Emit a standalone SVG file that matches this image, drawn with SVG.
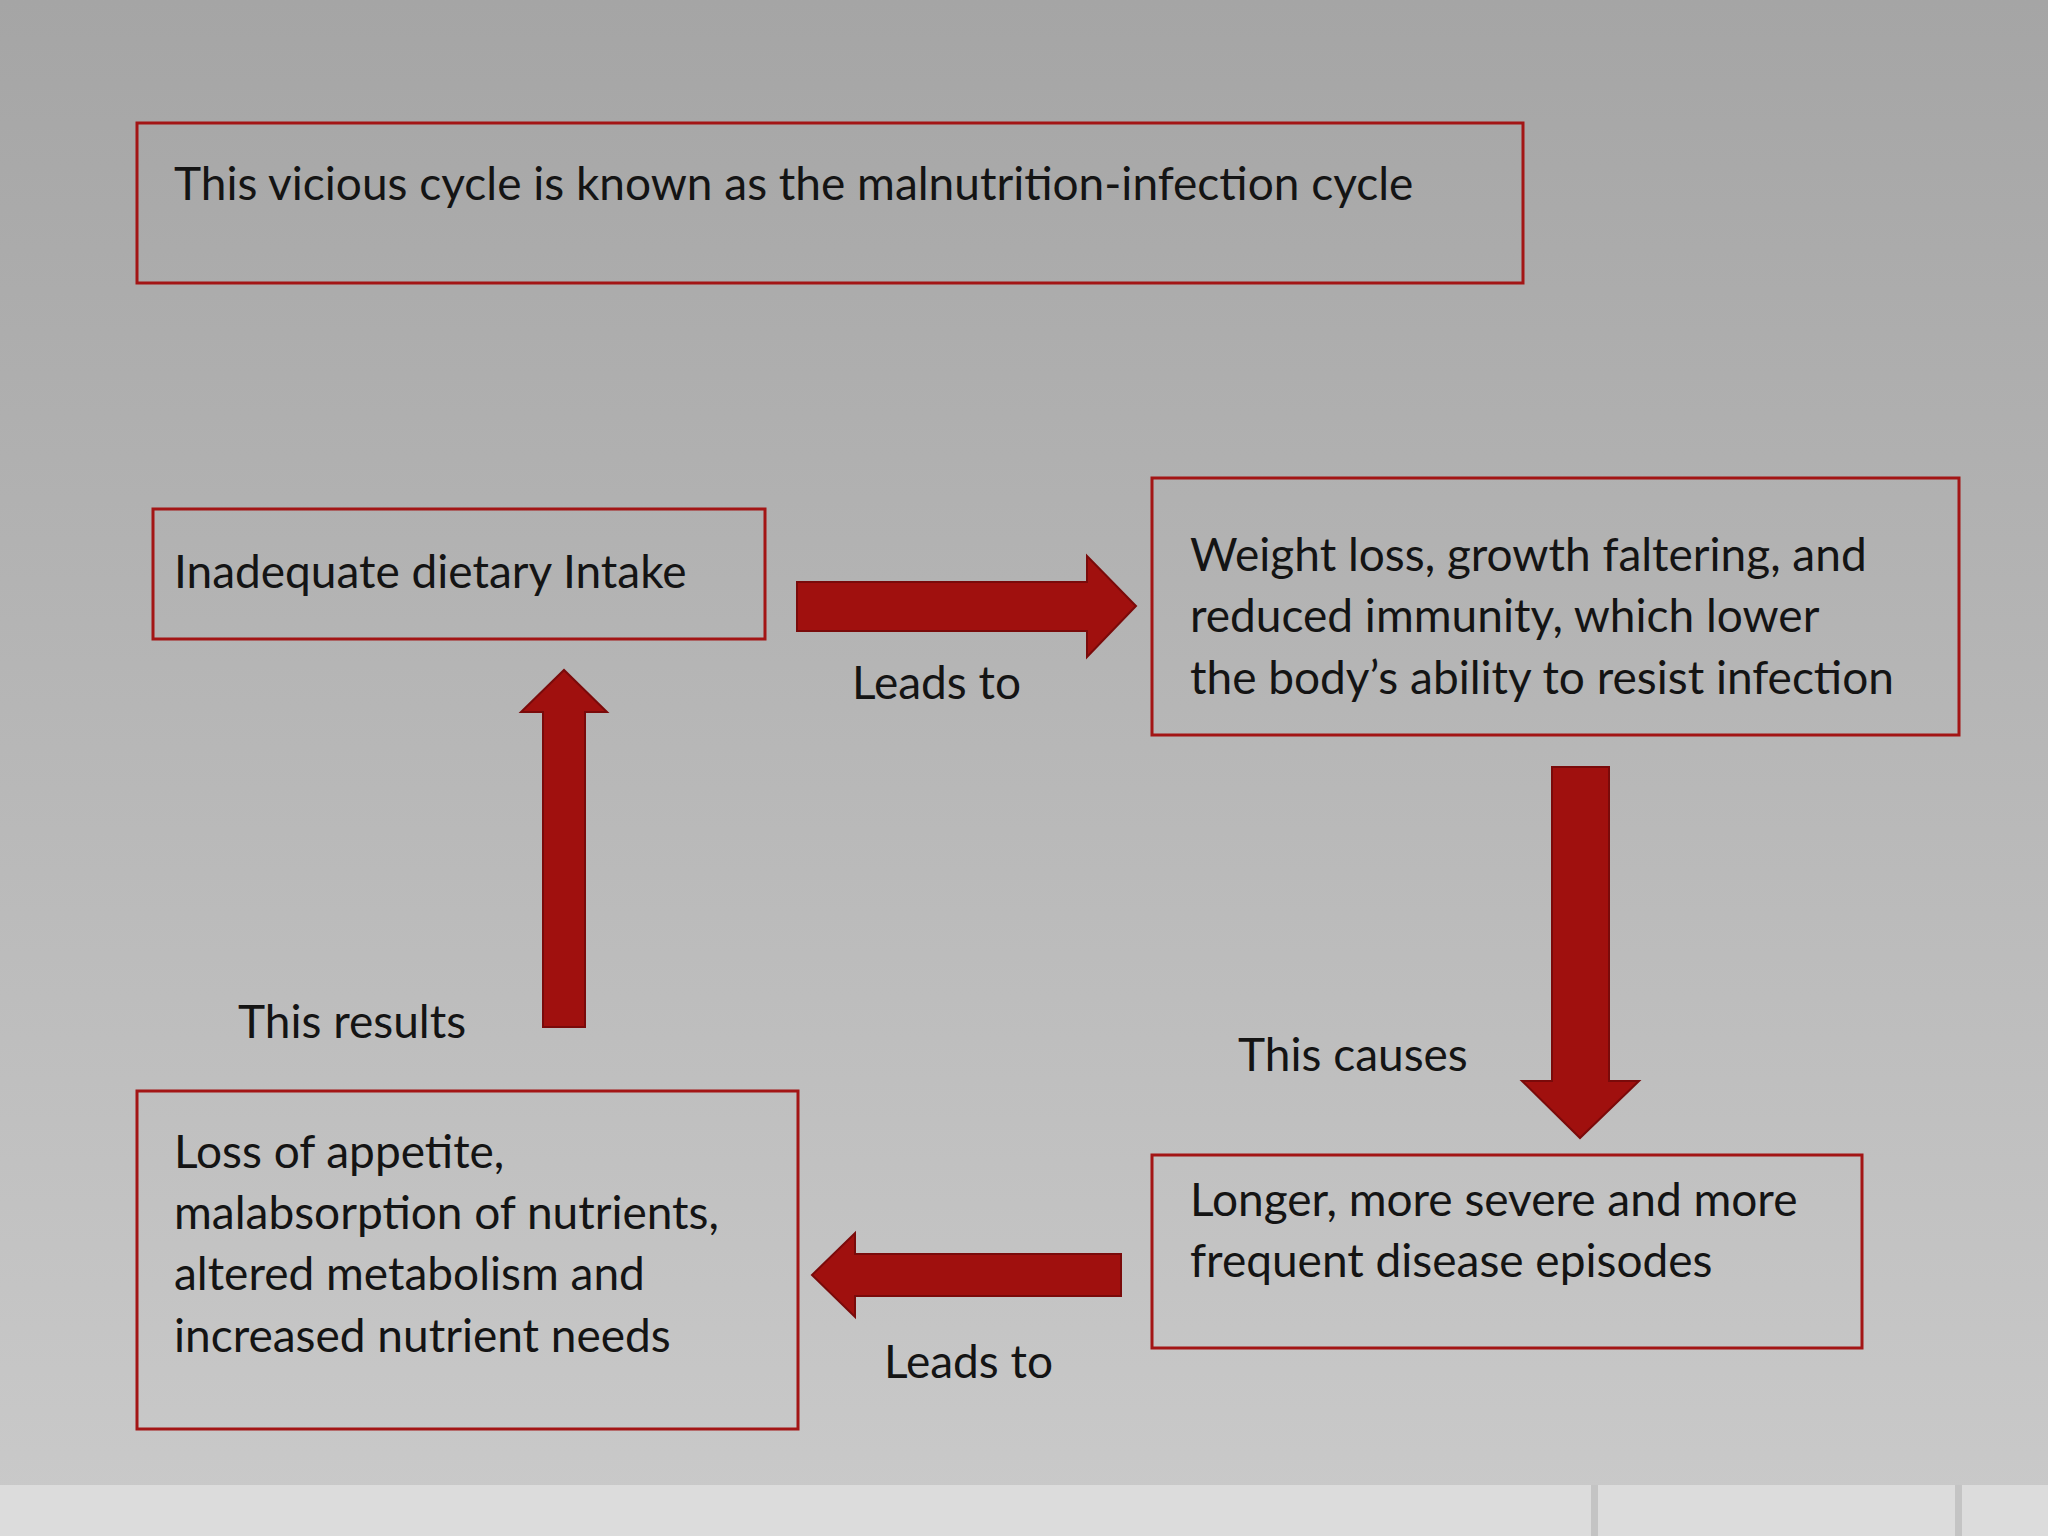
<svg xmlns="http://www.w3.org/2000/svg" width="2048" height="1536" viewBox="0 0 2048 1536">
<defs>
<linearGradient id="bg" x1="0" y1="0" x2="0" y2="1"><stop offset="0" stop-color="#a5a5a5"/><stop offset="1" stop-color="#cacaca"/></linearGradient>
<style>
.box{fill:none;stroke:#a31515;stroke-width:3}
.t{font-family:Lato,"Open Sans",sans-serif;font-size:46px;fill:#141414}
.arr{fill:#a0100e;stroke:#7a0a0a;stroke-width:2}
</style>
</defs>
<rect width="2048" height="1536" fill="url(#bg)"/>
<rect y="1485" width="2048" height="51" fill="#dcdcdc"/>
<rect x="1591" y="1485" width="7" height="51" fill="#c4c4c4"/>
<rect x="1955" y="1485" width="7" height="51" fill="#c4c4c4"/>
<g id="title"><rect class="box" x="137" y="123" width="1386" height="160"/><text class="t" x="174" y="200">This vicious cycle is known as the malnutrition-infection cycle</text></g>
<g id="intake"><rect class="box" x="153" y="509" width="612" height="130"/><text class="t" x="174" y="588">Inadequate dietary Intake</text></g>
<g id="weight"><rect class="box" x="1152" y="478" width="807" height="257"/><text class="t" x="1190" y="571">Weight loss, growth faltering, and</text><text class="t" x="1190" y="632">reduced immunity, which lower</text><text class="t" x="1190" y="694">the body’s ability to resist infection</text></g>
<g id="disease"><rect class="box" x="1152" y="1155" width="710" height="193"/><text class="t" x="1190" y="1216">Longer, more severe and more</text><text class="t" x="1190" y="1277">frequent disease episodes</text></g>
<g id="appetite"><rect class="box" x="137" y="1091" width="661" height="338"/><text class="t" x="174" y="1168">Loss of appetite,</text><text class="t" x="174" y="1229">malabsorption of nutrients,</text><text class="t" x="174" y="1290">altered metabolism and</text><text class="t" x="174" y="1352">increased nutrient needs</text></g>
<g id="connectors">
<polygon class="arr" points="797,582 1087,582 1087,556 1136,606 1087,657 1087,631 797,631"/>
<polygon class="arr" points="1552,767 1609,767 1609,1081 1639,1081 1580,1138 1522,1081 1552,1081"/>
<polygon class="arr" points="1121,1254 855,1254 855,1233 812,1275 855,1317 855,1296 1121,1296"/>
<polygon class="arr" points="543,1027 585,1027 585,712 607,712 564,670 521,712 543,712"/>
<text class="t" x="852" y="699">Leads to</text>
<text class="t" x="1238" y="1071">This causes</text>
<text class="t" x="884" y="1378">Leads to</text>
<text class="t" x="238" y="1038">This results</text>
</g>
</svg>
